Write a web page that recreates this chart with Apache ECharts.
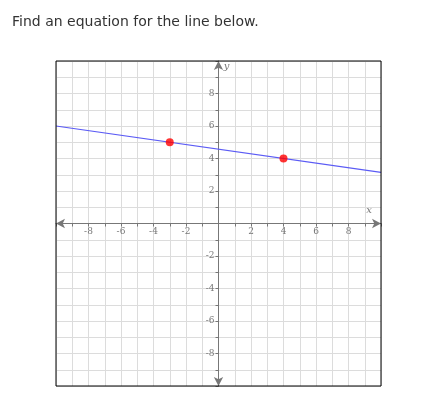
<!DOCTYPE html>
<html><head><meta charset="utf-8">
<script src="https://cdn.jsdelivr.net/npm/echarts@6/dist/echarts.min.js"></script>
<style>body{margin:0;background:#fff}#chart{width:440px;height:401px}</style>
</head><body><div id="chart"></div>
<script>
const AXIS_MIN = -10;
const AXIS_MAX = 10;
const linePoints = [[-10, 6], [10, 22 / 7]];
const givenPoints = [[-3, 5], [4, 4]];

const label = (v) => (v === 0 || v % 2 !== 0 || Math.abs(v) === 10) ? '' : String(v);

const axisCommon = {
  type: 'value', min: AXIS_MIN, max: AXIS_MAX, interval: 1, offset: -162.5,
  axisLine: { onZero: false, symbol: ['arrow', 'arrow'], symbolSize: [7, 9], lineStyle: { color: '#777', width: 1 } },
  axisTick: { show: true, length: 3, lineStyle: { color: '#777' } },
  splitLine: { show: true, lineStyle: { color: '#dcdcdc', width: 1 } },
  axisLabel: { formatter: label, color: '#777', fontSize: 9, fontFamily: 'DejaVu Serif', margin: 4 },
};

const chart = echarts.init(document.getElementById('chart'));
chart.setOption({
  animation: false,
  title: {
    text: 'Find an equation for the line below.', left: 7, top: 10,
    textStyle: { fontSize: 14, fontWeight: 'normal', color: '#333', fontFamily: 'DejaVu Sans' },
  },
  grid: { left: 56, top: 61, width: 325, height: 325, show: true, borderColor: '#000', borderWidth: 1, z: 5 },
  xAxis: Object.assign({}, axisCommon, {
    position: 'bottom',
    name: 'x', nameLocation: 'end', nameGap: -12,
    nameTextStyle: { color: '#777', fontStyle: 'italic', fontFamily: 'DejaVu Serif', fontSize: 10, verticalAlign: 'bottom', align: 'center', padding: [0, 0, 8, 0] },
  }),
  yAxis: Object.assign({}, axisCommon, {
    position: 'left',
    name: 'y', nameLocation: 'end', nameGap: -10,
    nameTextStyle: { color: '#777', fontStyle: 'italic', fontFamily: 'DejaVu Serif', fontSize: 10, padding: [0, 0, 0, 16] },
  }),
  series: [
    { type: 'line', data: linePoints, showSymbol: false, lineStyle: { color: '#5b5bf5', width: 1.2 }, z: 3 },
    { type: 'scatter', data: givenPoints, symbolSize: 8, itemStyle: { color: '#ff0000' }, z: 4 },
  ],
});
</script></body></html>
